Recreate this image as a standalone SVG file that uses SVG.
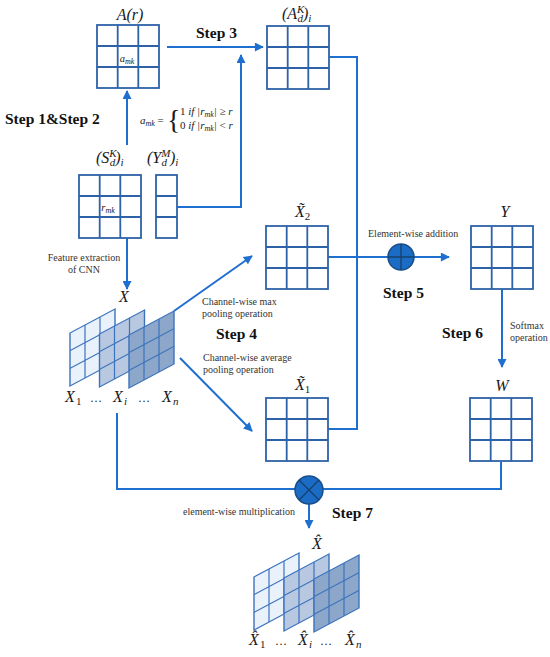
<svg xmlns="http://www.w3.org/2000/svg" xmlns:xlink="http://www.w3.org/1999/xlink" width="550" height="657" viewBox="0 0 550 657" font-family="'Liberation Serif', 'Times New Roman', 'DejaVu Serif', serif">
<style>
text{font-family:'Liberation Serif','Times New Roman','DejaVu Serif',serif}
.grid{fill:#fff;stroke:#2e62a8;stroke-width:1.8}
.gl{stroke:#2e62a8;stroke-width:1.8;fill:none}
.pl{stroke:#3c73bd;stroke-width:1.2;fill:none}
.con{fill:none;stroke:#1f6fd1;stroke-width:2}
.arr{fill:none;stroke:#1f6fd1;stroke-width:2;marker-end:url(#ah)}
.math{font-style:italic;fill:#1a1a1a}
.step{font-weight:bold;font-size:15.5px;fill:#111}
.small{font-size:10px;fill:#333}
.op{fill:#1b6cc4;stroke:#1a4d8a;stroke-width:1.5}
.opl{stroke:#17406f;stroke-width:1.3}
</style>
<defs>
<marker id="ah" viewBox="0 0 10 10" refX="9" refY="5" markerWidth="10" markerHeight="9" markerUnits="userSpaceOnUse" orient="auto">
<path d="M0,0 L10,5 L0,10 z" fill="#1f6fd1"/>
</marker>
<g id="g33">
<rect class="grid" x="0" y="0" width="62" height="63"/>
<path class="gl" d="M20.7,0V63M41.3,0V63M0,21H62M0,42H62"/>
</g>
<g id="pgl">
<path class="pl" d="M15,0V53M30,0V53M0,17.7H45M0,35.3H45"/>
<rect x="0" y="0" width="45" height="53" fill="none" stroke="#3c73bd" stroke-width="1.4"/>
</g>
</defs>

<g id="connectors">
<path class="arr" d="M167,47H263"/>
<path class="arr" d="M177,207H241V55"/>
<path class="arr" d="M127,145V91"/>
<path class="con" d="M329,57H357V429H328"/>
<path class="con" d="M328,257H388"/>
<path class="arr" d="M414,257H449"/>
<path class="arr" d="M502,289V367"/>
<path class="arr" d="M127,238V289"/>
<path class="arr" d="M174,311L252,256"/>
<path class="arr" d="M180,358L252,431"/>
<path class="con" d="M117,413V489H295"/>
<path class="con" d="M323,489H501V462"/>
<path class="arr" d="M309,504V528"/>
</g>

<g id="node-A">
<use xlink:href="#g33" x="97" y="25"/>
<text class="math" x="127" y="62" font-size="10.5" text-anchor="middle">a<tspan font-size="8" dy="2">mk</tspan></text>
<text class="math" x="130" y="20" font-size="16" text-anchor="middle">A(r)</text>
</g>

<g id="node-AdK">
<use xlink:href="#g33" x="267" y="26"/>
<text class="math" font-size="16" x="282" y="19">(A<tspan font-size="11" dy="-6">K</tspan><tspan font-size="11" dx="-7" dy="9">d</tspan><tspan dy="-3">)</tspan><tspan font-size="11" dy="3">i</tspan></text>
</g>

<g id="node-S">
<use xlink:href="#g33" x="79" y="175"/>
<text class="math" x="108" y="211" font-size="10.5" text-anchor="middle">r<tspan font-size="8" dy="2">mk</tspan></text>
<text class="math" font-size="16" x="96" y="163">(S<tspan font-size="11" dy="-6">K</tspan><tspan font-size="11" dx="-7" dy="9">d</tspan><tspan dy="-3">)</tspan><tspan font-size="11" dy="3">i</tspan></text>
</g>

<g id="node-Y">
<rect class="grid" x="156" y="175" width="21" height="63"/>
<path class="gl" d="M156,196H177M156,217H177"/>
<text class="math" font-size="16" x="147" y="163">(Y<tspan font-size="11" dy="-6">M</tspan><tspan font-size="11" dx="-9" dy="9">d</tspan><tspan dx="3" dy="-3">)</tspan><tspan font-size="11" dy="3">i</tspan></text>
</g>

<g id="formula">
<text class="math" x="140" y="124" font-size="11">a<tspan font-size="8" dy="2">mk</tspan><tspan dy="-2" font-style="normal"> =</tspan></text>
<text x="167" y="129" font-size="28" fill="#1a1a1a">{</text>
<text class="math" x="180" y="115" font-size="11"><tspan font-style="normal">1</tspan> if |r<tspan font-size="8" dy="2">mk</tspan><tspan dy="-2">| </tspan><tspan font-style="normal">≥</tspan> r</text>
<text class="math" x="180" y="129" font-size="11"><tspan font-style="normal">0</tspan> if |r<tspan font-size="8" dy="2">mk</tspan><tspan dy="-2">| </tspan><tspan font-style="normal">&lt;</tspan> r</text>
</g>

<g id="node-X">
<g transform="matrix(1,-0.533,0,1,70,333)"><rect x="0" y="0" width="45" height="53" fill="#e9f1fb"/><use xlink:href="#pgl"/></g>
<g transform="matrix(1,-0.533,0,1,99.5,334)"><rect x="0" y="0" width="45" height="53" fill="#b7c8e0"/><use xlink:href="#pgl"/></g>
<g transform="matrix(1,-0.533,0,1,129,335)"><rect x="0" y="0" width="45" height="53" fill="#8ca7c9"/><use xlink:href="#pgl"/></g>
<text class="math" x="124" y="302" font-size="16" text-anchor="middle">X</text>
<text class="math" font-size="16"><tspan x="65" y="402">X</tspan><tspan x="76" y="405" font-size="11" font-style="normal">1</tspan><tspan x="90" y="402" font-style="normal" font-size="12">…</tspan><tspan x="113" y="402">X</tspan><tspan x="124" y="405" font-size="11">i</tspan><tspan x="138" y="402" font-style="normal" font-size="12">…</tspan><tspan x="162" y="402">X</tspan><tspan x="173" y="405" font-size="11">n</tspan></text>
</g>

<g id="node-X2">
<use xlink:href="#g33" x="266" y="226"/>
<text class="math" font-size="16" x="295" y="217">X̃<tspan font-size="11" font-style="normal" dy="3">2</tspan></text>
</g>

<g id="node-X1">
<use xlink:href="#g33" x="266" y="398"/>
<text class="math" font-size="16" x="295" y="390">X̃<tspan font-size="11" font-style="normal" dy="3">1</tspan></text>
</g>

<g id="node-Yout">
<use xlink:href="#g33" x="471" y="226"/>
<text class="math" x="505" y="217" font-size="16" text-anchor="middle">Y</text>
</g>

<g id="node-W">
<use xlink:href="#g33" x="470" y="398"/>
<text class="math" x="502" y="391" font-size="16" text-anchor="middle">W</text>
</g>

<g id="node-add">
<circle class="op" cx="401" cy="257" r="13"/>
<path class="opl" d="M388,257H414M401,244V270"/>
</g>

<g id="node-mul">
<circle class="op" cx="309" cy="490" r="14"/>
<path class="opl" d="M299,480L319,500M319,480L299,500"/>
</g>

<g id="node-Xhat">
<g transform="matrix(1,-0.533,0,1,254,577)"><rect x="0" y="0" width="45" height="53" fill="#e9f1fb"/><use xlink:href="#pgl"/></g>
<g transform="matrix(1,-0.533,0,1,284,578)"><rect x="0" y="0" width="45" height="53" fill="#b7c8e0"/><use xlink:href="#pgl"/></g>
<g transform="matrix(1,-0.533,0,1,314,579)"><rect x="0" y="0" width="45" height="53" fill="#8ca7c9"/><use xlink:href="#pgl"/></g>
<text class="math" x="317" y="549" font-size="16" text-anchor="middle">X̂</text>
<text class="math" font-size="16"><tspan x="249" y="645">X̂</tspan><tspan x="260" y="648" font-size="11" font-style="normal">1</tspan><tspan x="275" y="645" font-style="normal" font-size="12">…</tspan><tspan x="298" y="645">X̂</tspan><tspan x="309" y="648" font-size="11">i</tspan><tspan x="320" y="645" font-style="normal" font-size="12">…</tspan><tspan x="345" y="645">X̂</tspan><tspan x="356" y="648" font-size="11">n</tspan></text>
</g>

<g id="labels">
<text class="step" x="196" y="38">Step 3</text>
<text class="step" x="5" y="124">Step 1&amp;Step 2</text>
<text class="step" x="216" y="339">Step 4</text>
<text class="step" x="383" y="298">Step 5</text>
<text class="step" x="442" y="338">Step 6</text>
<text class="step" x="332" y="518">Step 7</text>
<text class="small" x="84" y="261" text-anchor="middle">Feature extraction</text>
<text class="small" x="84" y="273" text-anchor="middle">of CNN</text>
<text class="small" x="202" y="305">Channel-wise max</text>
<text class="small" x="202" y="317">pooling operation</text>
<text class="small" x="203" y="361">Channel-wise average</text>
<text class="small" x="203" y="373">pooling operation</text>
<text class="small" x="368" y="237">Element-wise addition</text>
<text class="small" x="510" y="329">Softmax</text>
<text class="small" x="510" y="341">operation</text>
<text class="small" x="183" y="515">element-wise multiplication</text>
</g>
</svg>
